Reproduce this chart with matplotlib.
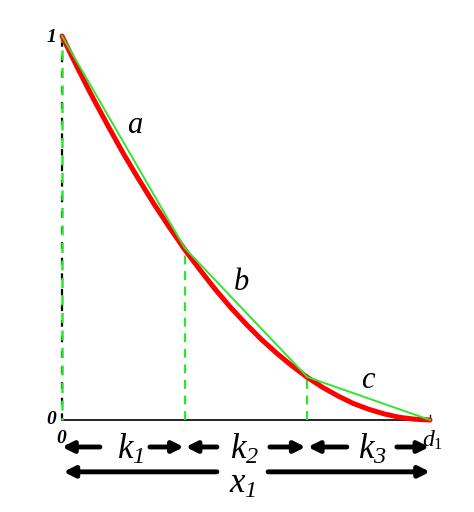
import matplotlib
matplotlib.use("Agg")
import matplotlib.pyplot as plt

plt.rcParams['mathtext.fontset'] = 'custom'
plt.rcParams['mathtext.it'] = 'Liberation Serif:italic'
plt.rcParams['mathtext.rm'] = 'Liberation Serif:italic'
plt.rcParams['mathtext.sf'] = 'Liberation Serif'

# red curve (x in steps of 1/24)
curve_x = [i / 24 for i in range(25)]
curve_y = [1.0, 0.918, 0.840, 0.766, 0.694, 0.627, 0.5625, 0.502, 0.444,
           0.391, 0.340, 0.293, 0.25, 0.210, 0.174, 0.141, 0.111, 0.085,
           0.0625, 0.043, 0.028, 0.016, 0.007, 0.002, 0.0]

# green piecewise line
seg_x = [0, 1/3, 2/3, 1]
seg_y = [1.0, 0.448, 0.112, 0.0]
seg_labels = ["a", "b", "c"]
seg_label_pos = [(0.198, 0.768), (0.489, 0.359), (0.832, 0.104)]

# arrows below the axis (tail, head)
row1 = [(0.103, 0.0), (0.239, 0.331), (0.421, 0.336), (0.565, 0.662),
        (0.774, 0.668), (0.910, 0.998)]
row2 = [(0.421, 0.004), (0.560, 1.0)]
k_labels = [r"$k_{1}$", r"$k_{2}$", r"$k_{3}$"]
k_pos = [0.185, 0.497, 0.842]

fig = plt.figure(figsize=(4.74, 5.12), dpi=100)
ax = fig.add_axes([62/474, 92/512, 368/474, 384/512])
ax.set_xlim(0, 1)
ax.set_ylim(0, 1)
ax.axis("off")

green = "#2ee62e"

# axes
ax.plot([0, 1], [0, 0], color="black", lw=1.2, clip_on=False)
ax.plot([1, 1], [0, 0.012], color="black", lw=1.0, clip_on=False)
ax.plot([0, 0], [0, 1], color="black", lw=1.6, ls=(0, (3, 4)), clip_on=False)
ax.plot([0, 0], [0, 1], color=green, lw=1.8, ls=(3, (4, 3)), clip_on=False)

# dashed verticals
for xv, yv in zip(seg_x[1:3], seg_y[1:3]):
    ax.plot([xv, xv], [0, yv], color=green, lw=1.6, ls=(0, (4, 3)))

ax.plot(curve_x, curve_y, color="red", lw=3.6, solid_joinstyle="round",
        solid_capstyle="round", clip_on=False)
ax.plot(seg_x, seg_y, color=green, lw=1.4, clip_on=False)

tf = dict(family="Liberation Serif", style="italic")
for lab, (tx, ty) in zip(seg_labels, seg_label_pos):
    ax.text(tx, ty, lab, fontsize=22, ha="center", va="center", **tf)

ax.text(-0.03, 0.995, "1", fontsize=14, weight="bold", ha="center", va="center", **tf)
ax.text(-0.03, 0.0, "0", fontsize=14, weight="bold", ha="center", va="center", **tf)
ax.text(-0.003, -0.047, "0", fontsize=14, weight="bold", ha="center", va="center", **tf)
ax.text(1.008, -0.052, r"$d_{\mathsf{1}}$", fontsize=17, ha="center", va="center")

arrow = dict(arrowstyle="-|>", lw=3.5, color="black", mutation_scale=16,
             shrinkA=0, shrinkB=0)
for tail, head in row1:
    ax.annotate("", xy=(head, -0.0703), xytext=(tail, -0.0703),
                arrowprops=arrow, annotation_clip=False)
for tail, head in row2:
    ax.annotate("", xy=(head, -0.135), xytext=(tail, -0.135),
                arrowprops=arrow, annotation_clip=False)

for lab, kx in zip(k_labels, k_pos):
    ax.text(kx, -0.076, lab, fontsize=25, ha="center", va="center")
ax.text(0.492, -0.163, r"$x_{1}$", fontsize=25, ha="center", va="center")

fig.savefig("out.png", dpi=100)
